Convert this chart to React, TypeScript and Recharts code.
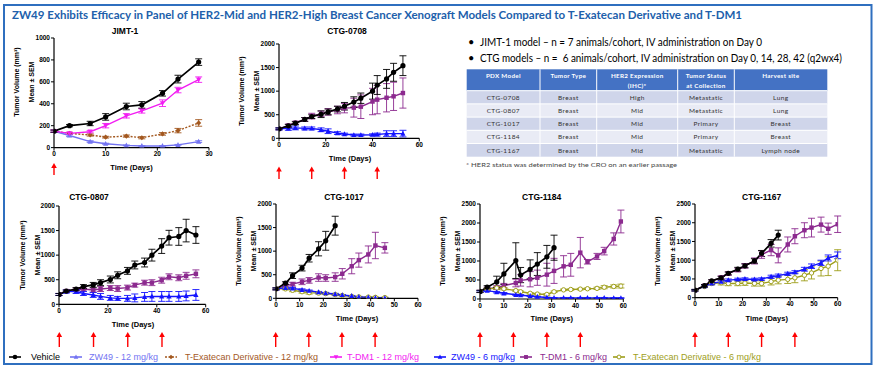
import React from 'react';
import { LineChart, Line, XAxis, YAxis, ErrorBar } from 'recharts';

const CHART_FONT = "'Liberation Sans', Arial, Helvetica, sans-serif";
const TEXT_FONT = "Lato, 'Open Sans', sans-serif";

// ---------------- series definitions ----------------
type Shape = 'circle' | 'triUp' | 'triDown' | 'diamond' | 'square' | 'openCircle';
interface SerDef { name: string; color: string; shape: Shape; dash?: string; }
const SER: Record<string, SerDef> = {
  vehicle: { name: 'Vehicle', color: '#000000', shape: 'circle' },
  zw12: { name: 'ZW49 - 12 mg/kg', color: '#7373f2', shape: 'triUp' },
  tex12: { name: 'T-Exatecan Derivative - 12 mg/kg', color: '#a3581f', shape: 'diamond', dash: '2 1.5' },
  tdm12: { name: 'T-DM1 - 12 mg/kg', color: '#f21df2', shape: 'triDown' },
  zw6: { name: 'ZW49 - 6 mg/kg', color: '#1414ff', shape: 'triUp' },
  tdm6: { name: 'T-DM1 - 6 mg/kg', color: '#8c2a8f', shape: 'square' },
  tex6: { name: 'T-Exatecan Derivative - 6 mg/kg', color: '#9e9e1a', shape: 'openCircle' },
};
const legendOrder = ['vehicle', 'zw12', 'tex12', 'tdm12', 'zw6', 'tdm6', 'tex6'];

// ---------------- JIMT-1 ----------------
const jimtDays = [0, 3, 7, 10, 14, 17, 21, 24, 28];
const jimtVehicle = [150, 200, 220, 280, 375, 390, 495, 625, 780];
const jimtVehicleErr = [10, 10, 20, 30, 30, 30, 25, 35, 30];
const jimtZw12 = [150, 110, 55, 35, 20, 15, 15, 25, 55];
const jimtZw12Err = [10, 10, 8, 5, 4, 3, 3, 4, 8];
const jimtTex12 = [150, 130, 115, 95, 105, 90, 125, 155, 225];
const jimtTex12Err = [10, 10, 10, 8, 10, 10, 12, 20, 30];
const jimtTdm12 = [150, 130, 145, 200, 290, 335, 405, 525, 620];
const jimtTdm12Err = [10, 8, 10, 20, 20, 20, 30, 25, 25];

// ---------------- CTG-0708 ----------------
const d0708 = [0, 4, 7, 11, 14, 18, 21, 25, 28, 32, 35, 40, 42, 46, 49, 53];
const v0708 = [200, 265, 320, 400, 460, 510, 560, 620, 680, 770, 850, 1000, 1130, 1260, 1400, 1540];
const v0708Err = [20, 30, 30, 40, 40, 70, 60, 60, 80, 110, 110, 170, 200, 200, 190, 210];
const tdm0708 = [200, 270, 330, 400, 470, 520, 560, 600, 640, 650, 670, 780, 820, 860, 890, 960];
const tdm0708Err = [20, 30, 30, 40, 60, 60, 70, 80, 100, 200, 250, 280, 300, 300, 300, 320];
const zw0708 = [200, 210, 220, 210, 210, 180, 150, 110, 90, 70, 70, 75, 80, 100, 100, 100];
const zw0708Err = [20, 40, 40, 30, 30, 40, 50, 30, 20, 20, 20, 20, 30, 60, 60, 70];

// ---------------- CTG-0807 ----------------
const d0807 = [0, 3, 7, 10, 14, 17, 21, 24, 28, 31, 35, 38, 42, 45, 49, 52, 56];
const v0807 = [200, 270, 310, 360, 395, 440, 505, 590, 680, 800, 850, 1000, 1185, 1355, 1380, 1500, 1410];
const v0807Err = [20, 20, 30, 40, 50, 60, 70, 70, 70, 80, 90, 120, 150, 150, 180, 230, 170];
const tdm0807 = [200, 270, 300, 310, 290, 310, 330, 320, 340, 390, 440, 440, 490, 560, 540, 580, 620];
const tdm0807Err = [20, 20, 30, 40, 40, 50, 50, 60, 50, 40, 50, 60, 60, 60, 60, 70, 80];
const zw0807 = [200, 260, 260, 220, 190, 160, 130, 120, 120, 130, 150, 160, 160, 160, 160, 170, 190];
const zw0807Err = [20, 30, 40, 40, 50, 60, 50, 40, 60, 80, 90, 100, 100, 100, 100, 100, 110];

// ---------------- CTG-1017 ----------------
const d1017 = [0, 4, 7, 11, 14, 18, 21, 25, 28, 32, 35, 39, 42, 46];
const d1017Vehicle = [0, 4, 7, 11, 14, 18, 21, 25];
const v1017 = [200, 320, 480, 640, 850, 1050, 1220, 1540];
const v1017Err = [20, 30, 60, 60, 80, 150, 200, 200];
const tdm1017 = [200, 270, 300, 350, 380, 440, 430, 450, 520, 680, 810, 930, 1120, 1070];
const tdm1017Err = [20, 30, 40, 60, 60, 80, 70, 90, 110, 160, 150, 180, 280, 110];
const zw1017 = [200, 220, 210, 180, 160, 130, 110, 90, 70, 50, 30, 20, 10, 5];
const zw1017Err = [20, 20, 20, 20, 15, 15, 15, 15, 10, 10, 10, 5, 5, 5];
const tex1017 = [200, 200, 170, 140, 120, 110, 100, 80, 60, 40, 30, 25, 20, 15];
const tex1017Err = [20, 20, 30, 30, 30, 20, 20, 20, 15, 10, 10, 10, 10, 10];

// ---------------- CTG-1184 ----------------
const d1184 = [0, 3, 7, 10, 15, 17, 21, 24, 28, 31, 35, 38, 42, 45, 49, 52, 56, 59];
const d1184Vehicle = [0, 3, 7, 10, 15, 17, 21, 24, 28, 31];
const v1184 = [200, 310, 450, 660, 1010, 630, 780, 920, 1110, 1350];
const v1184Err = [30, 40, 150, 280, 470, 200, 250, 300, 300, 330];
const tdm1184 = [200, 270, 300, 350, 420, 490, 520, 560, 640, 740, 860, 900, 1220, 980, 1120, 1260, 1580, 2040];
const tdm1184Err = [30, 40, 50, 60, 100, 150, 200, 200, 300, 330, 280, 300, 400, 60, 80, 100, 160, 300];
const zw1184 = [200, 220, 180, 150, 110, 100, 80, 60, 40, 30, 30, 30, 30, 30, 30, 30, 25, 25];
const zw1184Err = [20, 20, 20, 20, 15, 15, 10, 10, 10, 10, 10, 10, 10, 10, 10, 10, 10, 10];
const tex1184 = [200, 260, 290, 270, 220, 190, 150, 130, 120, 190, 240, 250, 260, 270, 280, 310, 330, 340];
const tex1184Err = [20, 30, 30, 30, 20, 20, 20, 20, 20, 20, 20, 20, 20, 20, 30, 40, 40, 50];

// ---------------- CTG-1167 ----------------
const d1167 = [0, 4, 7, 11, 14, 18, 21, 25, 28, 32, 35, 39, 42, 46, 49, 53, 56, 60];
const d1167Vehicle = [0, 4, 7, 11, 14, 18, 21, 25, 28, 32, 35];
const v1167 = [200, 320, 450, 530, 650, 760, 850, 980, 1180, 1450, 1670];
const v1167Err = [20, 30, 30, 40, 40, 50, 50, 60, 80, 100, 130];
const tdm1167 = [200, 320, 440, 540, 640, 740, 850, 980, 1150, 1270, 1130, 1420, 1640, 1800, 1870, 1950, 1840, 1960];
const tdm1167Err = [20, 30, 30, 40, 40, 50, 60, 80, 100, 150, 200, 200, 200, 200, 250, 200, 150, 220];
const zw1167 = [200, 310, 380, 430, 470, 490, 500, 490, 500, 560, 590, 640, 680, 760, 840, 930, 1060, 1130];
const zw1167Err = [20, 30, 30, 30, 30, 30, 30, 30, 30, 40, 40, 40, 40, 50, 60, 70, 80, 90];
const tex1167 = [200, 300, 380, 400, 380, 380, 390, 380, 380, 430, 470, 490, 530, 600, 660, 780, 840, 1000];
const tex1167Err = [20, 30, 40, 60, 60, 60, 60, 70, 70, 90, 100, 110, 130, 150, 160, 200, 250, 280];

// ---------------- dosing & ticks ----------------
const jimtDoseDays = [0];
const ctgDoseDays = [0, 14, 28, 42];
const ticksX30 = [0, 10, 20, 30];
const ticksX60by20 = [0, 20, 40, 60];
const ticksX60by10 = [0, 10, 20, 30, 40, 50, 60];
const ticksY1000 = [0, 200, 400, 600, 800, 1000];
const ticksY2000 = [0, 500, 1000, 1500, 2000];
const ticksY2500 = [0, 500, 1000, 1500, 2000, 2500];

// ---------------- table ----------------
const tableHead1 = ['PDX Model', 'Tumor Type', 'HER2 Expression', 'Tumor Status', 'Harvest site'];
const tableHead2 = ['', '', '(IHC)*', 'at Collection', ''];
const pdxModels = ['CTG-0708', 'CTG-0807', 'CTG-1017', 'CTG-1184', 'CTG-1167'];
const tumorTypes = ['Breast', 'Breast', 'Breast', 'Breast', 'Breast'];
const her2Levels = ['High', 'Mid', 'Mid', 'Mid', 'Mid'];
const tumorStatus = ['Metastatic', 'Metastatic', 'Primary', 'Primary', 'Metastatic'];
const harvestSites = ['Lung', 'Lung', 'Breast', 'Breast', 'Lymph node'];

const bullet1 = 'JIMT-1 model – n = 7 animals/cohort, IV administration on Day 0';
const bullet2 = 'CTG models – n =  6 animals/cohort, IV administration on Day 0, 14, 28, 42 (q2wx4)';

const pts = (days: number[], vals: number[], errs: number[]) =>
  days.map((x, i) => ({ x, y: vals[i], e: errs[i] }));

interface LineSpec { ser: string; data: { x: number; y: number; e: number }[]; }
interface PanelSpec {
  title: string; titleX: number; titleY: number;
  x0: number; x1: number; yTop: number; yBot: number;
  xMax: number; xTicks: number[]; yMax: number; yTicks: number[];
  timeX: number; timeY: number; yLabelCY: number;
  arrowDays: number[]; arrowY1: number; arrowY2: number;
  lines: LineSpec[];
}

const panels: PanelSpec[] = [
  {
    title: 'JIMT-1', titleX: 125, titleY: 34, x0: 54, x1: 209, yTop: 37.7, yBot: 147.3,
    xMax: 30, xTicks: ticksX30, yMax: 1000, yTicks: ticksY1000, timeX: 131.5, timeY: 169.5, yLabelCY: 82,
    arrowDays: jimtDoseDays, arrowY1: 163, arrowY2: 175,
    lines: [
      { ser: 'tex12', data: pts(jimtDays, jimtTex12, jimtTex12Err) },
      { ser: 'zw12', data: pts(jimtDays, jimtZw12, jimtZw12Err) },
      { ser: 'tdm12', data: pts(jimtDays, jimtTdm12, jimtTdm12Err) },
      { ser: 'vehicle', data: pts(jimtDays, jimtVehicle, jimtVehicleErr) },
    ],
  },
  {
    title: 'CTG-0708', titleX: 347, titleY: 34, x0: 279, x1: 419.3, yTop: 44, yBot: 138.3,
    xMax: 60, xTicks: ticksX60by20, yMax: 2000, yTicks: ticksY2000, timeX: 350, timeY: 160.5, yLabelCY: 91,
    arrowDays: ctgDoseDays, arrowY1: 166.5, arrowY2: 179,
    lines: [
      { ser: 'tdm6', data: pts(d0708, tdm0708, tdm0708Err) },
      { ser: 'zw6', data: pts(d0708, zw0708, zw0708Err) },
      { ser: 'vehicle', data: pts(d0708, v0708, v0708Err) },
    ],
  },
  {
    title: 'CTG-0807', titleX: 89, titleY: 199.5, x0: 59.3, x1: 206, yTop: 206, yBot: 304.3,
    xMax: 60, xTicks: ticksX60by20, yMax: 2000, yTicks: ticksY2000, timeX: 133, timeY: 326.5, yLabelCY: 255,
    arrowDays: ctgDoseDays, arrowY1: 332, arrowY2: 347,
    lines: [
      { ser: 'tdm6', data: pts(d0807, tdm0807, tdm0807Err) },
      { ser: 'zw6', data: pts(d0807, zw0807, zw0807Err) },
      { ser: 'vehicle', data: pts(d0807, v0807, v0807Err) },
    ],
  },
  {
    title: 'CTG-1017', titleX: 344, titleY: 199.5, x0: 275.7, x1: 417.7, yTop: 204, yBot: 298.3,
    xMax: 60, xTicks: ticksX60by10, yMax: 2000, yTicks: ticksY2000, timeX: 357, timeY: 321, yLabelCY: 251,
    arrowDays: ctgDoseDays, arrowY1: 332, arrowY2: 347,
    lines: [
      { ser: 'tdm6', data: pts(d1017, tdm1017, tdm1017Err) },
      { ser: 'tex6', data: pts(d1017, tex1017, tex1017Err) },
      { ser: 'zw6', data: pts(d1017, zw1017, zw1017Err) },
      { ser: 'vehicle', data: pts(d1017Vehicle, v1017, v1017Err) },
    ],
  },
  {
    title: 'CTG-1184', titleX: 541.7, titleY: 199.5, x0: 480, x1: 623.3, yTop: 204, yBot: 299,
    xMax: 60, xTicks: ticksX60by10, yMax: 2500, yTicks: ticksY2500, timeX: 551.7, timeY: 321, yLabelCY: 251,
    arrowDays: ctgDoseDays, arrowY1: 332, arrowY2: 347,
    lines: [
      { ser: 'tdm6', data: pts(d1184, tdm1184, tdm1184Err) },
      { ser: 'tex6', data: pts(d1184, tex1184, tex1184Err) },
      { ser: 'zw6', data: pts(d1184, zw1184, zw1184Err) },
      { ser: 'vehicle', data: pts(d1184Vehicle, v1184, v1184Err) },
    ],
  },
  {
    title: 'CTG-1167', titleX: 761.7, titleY: 199.5, x0: 695, x1: 837.7, yTop: 204, yBot: 297.7,
    xMax: 60, xTicks: ticksX60by10, yMax: 2500, yTicks: ticksY2500, timeX: 766.7, timeY: 320.5, yLabelCY: 251,
    arrowDays: ctgDoseDays, arrowY1: 332, arrowY2: 347,
    lines: [
      { ser: 'tdm6', data: pts(d1167, tdm1167, tdm1167Err) },
      { ser: 'tex6', data: pts(d1167, tex1167, tex1167Err) },
      { ser: 'zw6', data: pts(d1167, zw1167, zw1167Err) },
      { ser: 'vehicle', data: pts(d1167Vehicle, v1167, v1167Err) },
    ],
  },
];

// ---------------- marker ----------------
function Marker({ cx, cy, shape, color, s = 2.6 }: { cx: number; cy: number; shape: Shape; color: string; s?: number }) {
  if (cx == null || cy == null || isNaN(cx) || isNaN(cy)) return null;
  switch (shape) {
    case 'circle':
      return <circle cx={cx} cy={cy} r={s} fill={color} stroke="none" />;
    case 'openCircle':
      return <circle cx={cx} cy={cy} r={s * 0.85} fill="#ffffff" stroke={color} strokeWidth={1} />;
    case 'square':
      return <rect x={cx - s * 0.85} y={cy - s * 0.85} width={s * 1.7} height={s * 1.7} fill={color} />;
    case 'diamond':
      return <polygon points={`${cx},${cy - s} ${cx + s},${cy} ${cx},${cy + s} ${cx - s},${cy}`} fill={color} />;
    case 'triUp':
      return <polygon points={`${cx},${cy - s * 1.1} ${cx + s},${cy + s * 0.8} ${cx - s},${cy + s * 0.8}`} fill={color} />;
    case 'triDown':
      return <polygon points={`${cx},${cy + s * 1.1} ${cx + s},${cy - s * 0.8} ${cx - s},${cy - s * 0.8}`} fill={color} />;
    default:
      return null;
  }
}

const tickStyle = { fontSize: 6.5, fontWeight: 700, fill: '#000', fontFamily: CHART_FONT };

function Panel({ spec }: { spec: PanelSpec }) {
  const YW = 30, MT = 4, MR = 6, XH = 16;
  const left = spec.x0 - YW;
  const top = spec.yTop - MT;
  const w = spec.x1 - spec.x0 + YW + MR;
  const h = spec.yBot - spec.yTop + MT + XH;
  return (
    <div style={{ position: 'absolute', left, top, width: w, height: h }}>
      <LineChart width={w} height={h} margin={{ top: MT, right: MR, left: 0, bottom: 0 }}>
        <XAxis type="number" dataKey="x" domain={[0, spec.xMax]} ticks={spec.xTicks} allowDataOverflow
          interval={0} tickSize={3} tickMargin={1} height={XH} tick={tickStyle}
          stroke="#000" axisLine={{ stroke: '#000', strokeWidth: 1.2 }} tickLine={{ stroke: '#000' }} />
        <YAxis type="number" dataKey="y" domain={[0, spec.yMax]} ticks={spec.yTicks} allowDataOverflow
          interval={0} tickSize={3} tickMargin={1} width={YW} tick={tickStyle}
          stroke="#000" axisLine={{ stroke: '#000', strokeWidth: 1.2 }} tickLine={{ stroke: '#000' }} />
        {spec.lines.map((l, li) => {
          const sd = SER[l.ser];
          return (
            <Line key={l.ser + li} data={l.data} dataKey="y" type="linear" stroke={sd.color}
              strokeWidth={l.ser === 'vehicle' ? 1.7 : 1.4} strokeDasharray={sd.dash}
              isAnimationActive={false} activeDot={false}
              dot={(p: any) => <Marker key={`${l.ser}-${p.index}`} cx={p.cx} cy={p.cy} shape={sd.shape} color={sd.color} />}>
              <ErrorBar dataKey="e" direction="y" width={3.5} stroke={sd.color} strokeWidth={0.9} />
            </Line>
          );
        })}
      </LineChart>
    </div>
  );
}

function Arrow({ x, y1, y2 }: { x: number; y1: number; y2: number }) {
  return (
    <g>
      <line x1={x} y1={y1 + 4} x2={x} y2={y2} stroke="#ff0000" strokeWidth={1.4} />
      <polygon points={`${x},${y1} ${x + 2.8},${y1 + 5} ${x - 2.8},${y1 + 5}`} fill="#ff0000" />
    </g>
  );
}

const colEdges = [466.7, 540, 596.7, 677.7, 734.3, 827.3];
const headTop = 69.3, headBot = 90.7, rowH = 13.2;
const legendMarkerX = [15, 76, 171, 336, 440, 526, 619];
const legendTextX = [31, 89, 185, 347, 451, 540, 633];

export default function App() {
  const colCenters = colEdges.slice(0, -1).map((e, i) => (e + colEdges[i + 1]) / 2);
  const rows = pdxModels.map((m, i) => [m, tumorTypes[i], her2Levels[i], tumorStatus[i], harvestSites[i]]);
  return (
    <div style={{ position: 'absolute', left: 0, top: 0, width: 878, height: 369, background: '#ffffff', overflow: 'hidden' }}>
      <svg width={878} height={369} style={{ position: 'absolute', left: 0, top: 0 }}>
        <rect x={4} y={5} width={867.5} height={359} fill="none" stroke="#2f6fbf" strokeWidth={2} />
        <text x={12} y={19} fontFamily={TEXT_FONT} fontSize={12} fontWeight={700} fill="#2160ab"
          textLength={730} lengthAdjust="spacingAndGlyphs">
          ZW49 Exhibits Efficacy in Panel of HER2-Mid and HER2-High Breast Cancer Xenograft Models Compared to T-Exatecan Derivative and T-DM1
        </text>

        {/* bullets */}
        <text x={468} y={45.5} fontFamily={TEXT_FONT} fontSize={11} fill="#000">•</text>
        <text x={480} y={45.5} fontFamily={TEXT_FONT} fontSize={10.5} fill="#000" textLength={282}
          lengthAdjust="spacingAndGlyphs">{bullet1}</text>
        <text x={468} y={61.5} fontFamily={TEXT_FONT} fontSize={11} fill="#000">•</text>
        <text x={480} y={61.5} fontFamily={TEXT_FONT} fontSize={10.5} fill="#000" textLength={362}
          lengthAdjust="spacingAndGlyphs" style={{ whiteSpace: 'pre' }}>{bullet2}</text>

        {/* table */}
        <rect x={colEdges[0]} y={headTop} width={colEdges[5] - colEdges[0]} height={headBot - headTop} fill="#4472c4" />
        {rows.map((_, i) => (
          <rect key={'r' + i} x={colEdges[0]} y={headBot + i * rowH} width={colEdges[5] - colEdges[0]} height={rowH}
            fill={i % 2 === 0 ? '#cfd5ea' : '#e9ebf5'} />
        ))}
        {rows.map((_, i) => (
          <line key={'hl' + i} x1={colEdges[0]} x2={colEdges[5]} y1={headBot + i * rowH} y2={headBot + i * rowH} stroke="#ffffff" strokeWidth={1} />
        ))}
        {colEdges.slice(1, -1).map((x, i) => (
          <line key={'vl' + i} x1={x} x2={x} y1={headTop} y2={headBot + 5 * rowH} stroke="#ffffff" strokeWidth={1} />
        ))}
        {tableHead1.map((t, i) => (
          <text key={'h1' + i} x={colCenters[i]} y={78} textAnchor="middle" fontFamily={TEXT_FONT} fontSize={6.3}
            fontWeight={700} fill="#ffffff" letterSpacing={0.3}>{t}</text>
        ))}
        {tableHead2.map((t, i) => t ? (
          <text key={'h2' + i} x={colCenters[i]} y={87.5} textAnchor="middle" fontFamily={TEXT_FONT} fontSize={6.3}
            fontWeight={700} fill="#ffffff" letterSpacing={0.3}>{t}</text>
        ) : null)}
        {rows.map((r, i) => r.map((c, j) => (
          <text key={`c${i}-${j}`} x={colCenters[j]} y={headBot + i * rowH + 9} textAnchor="middle"
            fontFamily={TEXT_FONT} fontSize={6.5} fill="#333333" letterSpacing={0.4}>{c}</text>
        )))}
        <text x={466} y={166.5} fontFamily={TEXT_FONT} fontSize={6} fill="#444444" textLength={211}
          lengthAdjust="spacingAndGlyphs">* HER2 status was determined by the CRO on an earlier passage</text>

        {/* panel annotations */}
        {panels.map((p) => (
          <g key={p.title}>
            <text x={p.titleX} y={p.titleY} textAnchor="middle" fontFamily={CHART_FONT} fontSize={8.5} fontWeight={700} fill="#000">{p.title}</text>
            <text x={p.timeX} y={p.timeY} textAnchor="middle" fontFamily={CHART_FONT} fontSize={7.5} fontWeight={700} fill="#000">Time (Days)</text>
            <text transform={`translate(${p.x0 - 37},${p.yLabelCY}) rotate(-90)`} textAnchor="middle" dy="0.35em"
              fontFamily={CHART_FONT} fontSize={7} fontWeight={700} fill="#000">Tumor Volume (mm³)</text>
            <text transform={`translate(${p.x0 - 22},${p.yLabelCY}) rotate(-90)`} textAnchor="middle" dy="0.35em"
              fontFamily={CHART_FONT} fontSize={7} fontWeight={700} fill="#000">Mean ± SEM</text>
            {p.arrowDays.map((d) => (
              <Arrow key={d} x={p.x0 + (d / p.xMax) * (p.x1 - p.x0)} y1={p.arrowY1} y2={p.arrowY2} />
            ))}
          </g>
        ))}

        {/* legend */}
        {legendOrder.map((k, i) => {
          const sd = SER[k];
          const mx = legendMarkerX[i];
          return (
            <g key={k}>
              <line x1={mx - 6} x2={mx + 6} y1={357} y2={357} stroke={sd.color} strokeWidth={1.6} strokeDasharray={sd.dash} />
              <Marker cx={mx} cy={357} shape={sd.shape} color={sd.color} s={2.3} />
              <text x={legendTextX[i]} y={360.3} fontFamily={CHART_FONT} fontSize={9} fill={sd.color}>{sd.name}</text>
            </g>
          );
        })}
      </svg>
      {panels.map((p) => <Panel key={p.title} spec={p} />)}
    </div>
  );
}
